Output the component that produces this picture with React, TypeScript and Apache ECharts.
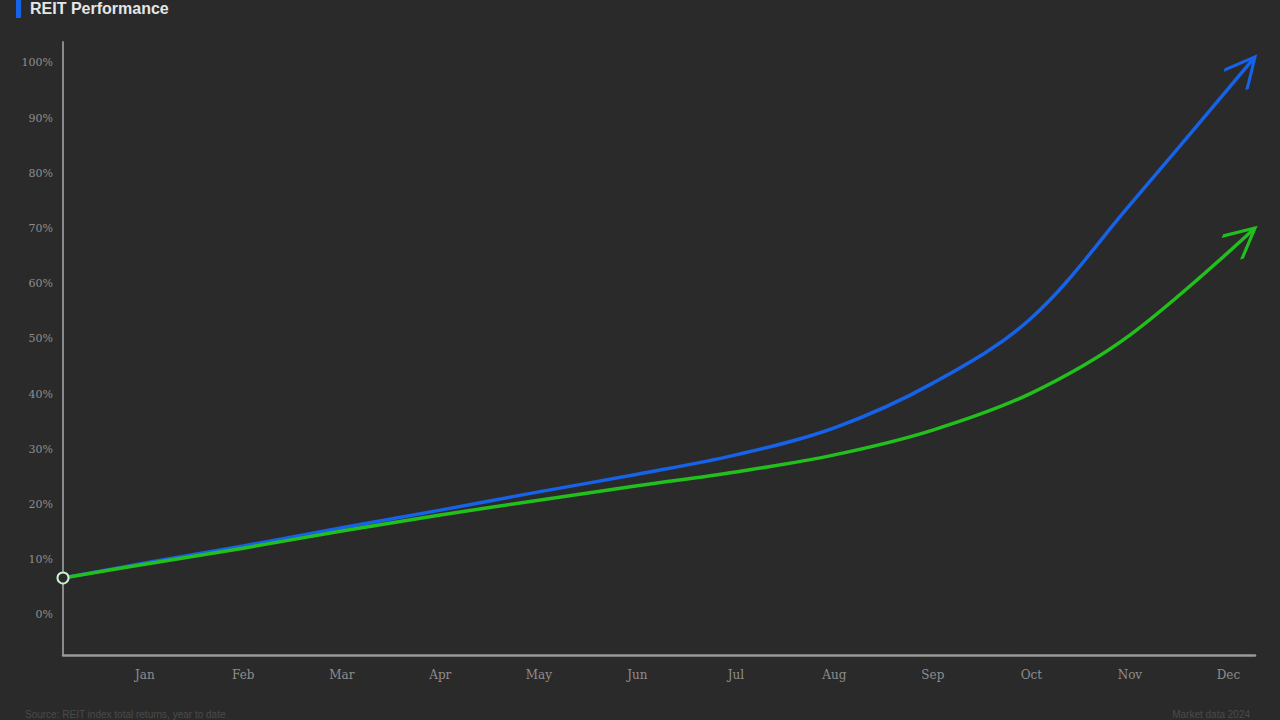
import React, { useEffect, useRef } from "react";
import * as echarts from "echarts";

const title = "REIT Performance";
const months = ["Jan", "Feb", "Mar", "Apr", "May", "Jun", "Jul", "Aug", "Sep", "Oct", "Nov", "Dec"];
const monthTicks = [0.83, 1.83, 2.83, 3.83, 4.83, 5.83, 6.83, 7.83, 8.83, 9.83, 10.83, 11.83];
const yTicks = [0, 10, 20, 30, 40, 50, 60, 70, 80, 90, 100];
const periods = [0, 0.83, 1.83, 2.83, 3.83, 4.83, 5.83, 6.83, 7.83, 8.83, 9.83, 10.83, 12.1];
const reitA = [6.7, 9.4, 12.5, 15.8, 19.0, 22.3, 25.5, 29.0, 33.9, 42.0, 53.8, 74.3, 101.1];
const reitB = [6.7, 9.2, 12.1, 15.2, 18.1, 20.8, 23.4, 25.9, 29.0, 33.5, 40.2, 50.7, 70.1];

const BLUE = "#1662e8";
const GREEN = "#22c01c";
const ARROW = "path://M16,-32 M0,32 L16,0 L32,32";

function buildData(vals: number[], color: string, rot: number, startMarker: boolean) {
  return vals.map((v, i) => {
    const item: any = { value: [periods[i], v] };
    if (i === vals.length - 1) {
      item.symbol = ARROW;
      item.symbolSize = [30, 60];
      item.symbolRotate = rot;
      item.itemStyle = { color: "rgba(0,0,0,0)", borderColor: color, borderWidth: 3.5 };
    } else if (i === 0 && startMarker) {
      item.symbol = "circle";
      item.symbolSize = 11;
      item.itemStyle = { color: "#2a2a2a", borderColor: "#c9f1cf", borderWidth: 2 };
    }
    return item;
  });
}

export default function App() {
  const ref = useRef<HTMLDivElement>(null);
  useEffect(() => {
    document.body.style.margin = "0";
    document.body.style.background = "#2a2a2a";
    const chart = echarts.init(ref.current!, null, { renderer: "svg" });
    chart.setOption({
      animation: false,
      backgroundColor: "#2a2a2a",
      grid: { left: 63, right: 25, top: 42, bottom: 65, containLabel: false, outerBoundsMode: "none" },
      graphic: [
        { type: "rect", left: 16, top: -2, shape: { width: 5, height: 20 }, style: { fill: BLUE } },
        {
          type: "text", left: 30, top: 0,
          style: { text: title, fill: "#e6e6e6", fontSize: 16, fontWeight: "bold", fontFamily: "Liberation Sans" },
        },
        { type: "text", left: 25, top: 709, style: { text: "Source: REIT index total returns, year to date", fill: "#4a4a4a", fontSize: 10 } },
        { type: "text", right: 30, top: 709, style: { text: "Market data 2024", fill: "#4a4a4a", fontSize: 10 } },
      ],
      xAxis: {
        type: "value",
        min: 0,
        max: 12.1,
        splitLine: { show: false },
        axisLine: { show: true, onZero: false, lineStyle: { color: "#9a9a9a", width: 2.5 } },
        axisTick: { show: false },
        axisLabel: {
          customValues: monthTicks,
          color: "#8e8e8e",
          fontSize: 12,
          fontFamily: "DejaVu Serif",
          margin: 14,
          formatter: (v: number) => months[Math.round(v - 0.83)] ?? "",
        },
      },
      yAxis: {
        type: "value",
        min: -7.25,
        max: 103.8,
        splitLine: { show: false },
        axisLine: { show: true, onZero: false, lineStyle: { color: "#8a8a8a", width: 2 } },
        axisTick: { show: false },
        axisLabel: {
          customValues: yTicks,
          color: "#8e8e8e",
          fontSize: 11,
          fontFamily: "DejaVu Serif",
          margin: 10,
          formatter: (v: number) => `${Math.round(v)}%`,
        },
      },
      series: [
        {
          type: "line",
          name: "REIT A",
          data: buildData(reitA, BLUE, -40.3, false),
          smooth: 0.35,
          symbol: "none",
          showSymbol: true,
          clip: false,
          lineStyle: { color: BLUE, width: 3.5 },
          itemStyle: { color: BLUE },
          z: 2,
        },
        {
          type: "line",
          name: "REIT B",
          data: buildData(reitB, GREEN, -49.5, true),
          smooth: 0.35,
          symbol: "none",
          showSymbol: true,
          clip: false,
          lineStyle: { color: GREEN, width: 3.5 },
          itemStyle: { color: GREEN },
          z: 3,
        },
      ],
    });
    return () => chart.dispose();
  }, []);
  return <div ref={ref} style={{ width: 1280, height: 720 }} />;
}
